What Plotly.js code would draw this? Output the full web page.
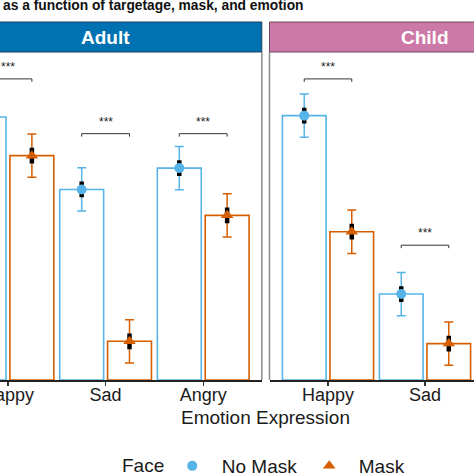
<!DOCTYPE html>
<html>
<head>
<meta charset="utf-8">
<script src="https://cdn.plot.ly/plotly-3.0.1.min.js"></script>
<style>html,body{margin:0;padding:0;background:#fff;}#chart{width:474px;height:474px;}</style>
</head>
<body>
<div id="chart"></div>
<script>
// ---- data ----
const emotions = ['Happy', 'Sad', 'Angry'];
const adultNoMask = [0.802, 0.581, 0.646];
const adultMask = [0.684, 0.118, 0.502];
const adultNoMaskCI = [0.066, 0.066, 0.066];
const adultMaskCI = [0.066, 0.066, 0.066];
const childEmotions = ['Happy', 'Sad'];
const childNoMask = [0.806, 0.262];
const childMask = [0.452, 0.111];
const childNoMaskCI = [0.066, 0.066];
const childMaskCI = [0.066, 0.066];
const seHalf = 0.024;
const adultSig = ['***', '***', '***'];
const adultSigY = [0.918, 0.751, 0.751];
const childSig = ['***', '***'];
const childSigY = [0.918, 0.411];
const faceLabels = ['No Mask', 'Mask'];
const panelLabels = ['Adult', 'Child'];

// ---- style ----
const FONT = 'Liberation Sans, Arial, sans-serif';
const C_NM = '#56B4E9', C_M = '#D55E00';
const W = 474, H = 474;
const px = v => v / W;
const py = v => (H - v) / H;

function panelTraces(cats, nm, m, nmCI, mCI, xa, showLeg) {
  const out = [];
  const series = [
    {vals: nm, ci: nmCI, col: C_NM, grp: 'nm', sym: 'circle', size: 10, name: faceLabels[0]},
    {vals: m, ci: mCI, col: C_M, grp: 'm', sym: 'triangle-up', size: 11, name: faceLabels[1]}
  ];
  series.forEach(s => {
    out.push({type: 'bar', x: cats, y: s.vals, xaxis: xa, yaxis: 'y', offsetgroup: s.grp,
      marker: {color: 'white', line: {color: s.col, width: 1.6}}, showlegend: false, hoverinfo: 'skip'});
  });
  series.forEach(s => {
    out.push({type: 'scatter', mode: 'markers', x: cats, y: s.vals, xaxis: xa, yaxis: 'y', offsetgroup: s.grp,
      marker: {size: 1, color: s.col, opacity: 0},
      error_y: {type: 'data', array: s.ci, visible: true, color: s.col, thickness: 1.5, width: 4.5},
      showlegend: false, hoverinfo: 'skip'});
    out.push({type: 'scatter', mode: 'markers', x: cats, y: s.vals, xaxis: xa, yaxis: 'y', offsetgroup: s.grp,
      marker: {size: 1, color: 'black', opacity: 0},
      error_y: {type: 'constant', value: seHalf, visible: true, color: 'black', thickness: 4.5, width: 0},
      showlegend: false, hoverinfo: 'skip'});
    out.push({type: 'scatter', mode: 'markers', x: cats, y: s.vals, xaxis: xa, yaxis: 'y', offsetgroup: s.grp,
      name: '\u2002' + s.name, legendgroup: s.grp, showlegend: showLeg,
      marker: {size: s.size, color: s.col, symbol: s.sym}, hoverinfo: 'skip'});
  });
  return out;
}

const data = [].concat(
  panelTraces(emotions, adultNoMask, adultMask, adultNoMaskCI, adultMaskCI, 'x', true),
  panelTraces(childEmotions, childNoMask, childMask, childNoMaskCI, childMaskCI, 'x2', false)
);

const shapes = [];
const annotations = [];
function brackets(sig, sigY, xref) {
  sig.forEach((s, i) => {
    const y = sigY[i];
    shapes.push({type: 'path', xref: xref, yref: 'y',
      path: `M ${i - 0.245},${y - 0.009} L ${i - 0.245},${y} L ${i + 0.245},${y} L ${i + 0.245},${y - 0.009}`,
      line: {color: '#333', width: 1}});
    annotations.push({xref: xref, yref: 'y', x: i, y: y + 0.036, text: s, showarrow: false,
      font: {family: FONT, size: 12, color: '#222'}, yanchor: 'middle'});
  });
}
brackets(adultSig, adultSigY, 'x');
brackets(childSig, childSigY, 'x2');

// strips
const adultL = -51, adultR = 261.8, childL = 269.5, childR = 580;
shapes.push({type: 'rect', xref: 'paper', yref: 'paper', x0: px(adultL), x1: px(adultR), y0: py(52), y1: py(22),
  fillcolor: '#0072B2', line: {color: '#1f3f5f', width: 1}, layer: 'above'});
shapes.push({type: 'rect', xref: 'paper', yref: 'paper', x0: px(childL), x1: px(childR), y0: py(52), y1: py(22),
  fillcolor: '#CC79A7', line: {color: '#6b4a60', width: 1}, layer: 'above'});
// panel borders
shapes.push({type: 'line', xref: 'paper', yref: 'paper', x0: px(adultR), x1: px(adultR), y0: py(380), y1: py(52),
  line: {color: '#8a8a8a', width: 1.5}});
shapes.push({type: 'line', xref: 'paper', yref: 'paper', x0: px(childL), x1: px(childL), y0: py(380), y1: py(52),
  line: {color: '#8a8a8a', width: 1.5}});

annotations.push({xref: 'paper', yref: 'paper', x: px((adultL + adultR) / 2), y: py(37), text: '<b>' + panelLabels[0] + '</b>',
  showarrow: false, font: {family: FONT, size: 19, color: 'white'}, xanchor: 'center', yanchor: 'middle'});
annotations.push({xref: 'paper', yref: 'paper', x: px((childL + childR) / 2), y: py(37), text: '<b>' + panelLabels[1] + '</b>',
  showarrow: false, font: {family: FONT, size: 19, color: 'white'}, xanchor: 'center', yanchor: 'middle'});
annotations.push({xref: 'paper', yref: 'paper', x: px(265), y: py(417), text: 'Emotion Expression',
  showarrow: false, font: {family: FONT, size: 19, color: '#1a1a1a'}, xanchor: 'center', yanchor: 'middle'});
annotations.push({xref: 'paper', yref: 'paper', x: px(1), y: py(6), text: '<b>as a function of targetage, mask, and emotion</b>',
  showarrow: false, font: {family: FONT, size: 13.8, color: '#111'}, xanchor: 'left', yanchor: 'middle'});

const axCommon = {type: 'category', showline: true, linecolor: '#222', linewidth: 1.5, ticks: 'outside', ticklen: 4,
  tickwidth: 1.2, tickcolor: '#333', showgrid: false, zeroline: false, fixedrange: true, automargin: false,
  ticklabelstandoff: -6,
  tickfont: {family: FONT, size: 18, color: '#1a1a1a'}, anchor: 'y'};

const layout = {
  width: W, height: H,
  margin: {l: 0, r: 0, t: 0, b: 0, autoexpand: false},
  paper_bgcolor: 'white', plot_bgcolor: 'white',
  barmode: 'group', bargap: 0.02, bargroupgap: 0.082,
  scattermode: 'group', scattergap: 0.02,
  xaxis: Object.assign({}, axCommon, {domain: [0, px(adultR)], categoryarray: emotions, categoryorder: 'array', range: [-0.0816, 2.6]}),
  xaxis2: Object.assign({}, axCommon, {domain: [px(childL), 1], categoryarray: emotions, categoryorder: 'array', range: [-0.603, 1.505]}),
  yaxis: {domain: [py(380), py(52)], range: [0, 1], showline: false, showticklabels: false, ticks: '', showgrid: false, zeroline: false, fixedrange: true, automargin: false},
  showlegend: true,
  legend: {orientation: 'h', x: px(120), xanchor: 'left', y: py(466), yanchor: 'middle',
    font: {family: FONT, size: 19, color: '#1a1a1a'}, title: {text: 'Face', side: 'left', font: {family: FONT, size: 19, color: '#1a1a1a'}},
    bgcolor: 'rgba(0,0,0,0)', entrywidth: 92, entrywidthmode: 'pixels'},
  shapes: shapes,
  annotations: annotations
};

Plotly.newPlot('chart', data, layout, {displayModeBar: false, staticPlot: true});
</script>
</body>
</html>
